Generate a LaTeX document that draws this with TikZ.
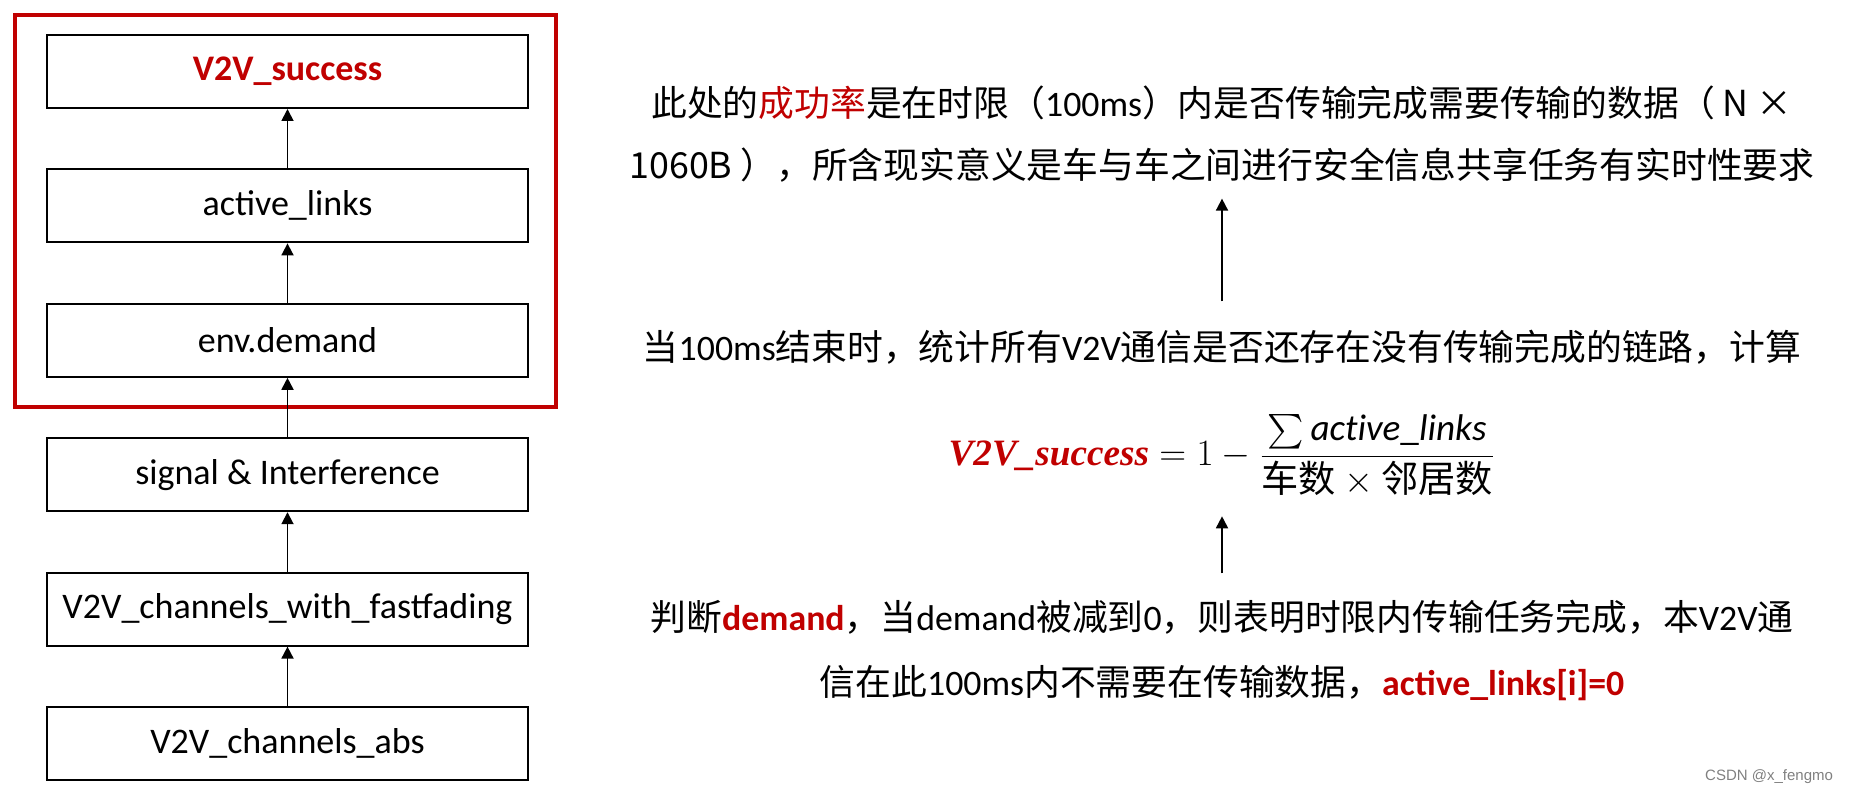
\RequirePackage{fix-cm}
\documentclass[tikz,border=0pt]{standalone}
\usepackage{amsmath}
\usepackage{fontspec}
\setmainfont{Carlito}
\newfontfamily\cjk{Noto Sans CJK SC}
\newfontfamily\wmfont{Liberation Sans}
\newfontfamily\mathword{Liberation Serif}
\usetikzlibrary{positioning,arrows.meta}
\definecolor{pptred}{RGB}{192,0,0}

\tikzset{%
  % Specifications for style of nodes:
         box/.style = {rectangle, draw = black, line width=1pt, minimum width=240.5pt, minimum height=36.5pt, font=\fontsize{18}{21}\selectfont},
        note/.style = {align=center, inner sep=0pt, font=\fontsize{17.9}{31}\selectfont\cjk},
         arr/.style = {-{Triangle[length=6pt,width=6pt]}, line width=0.9pt},
}

\begin{document}
\begin{tikzpicture}[x=0.5pt, y=-0.5pt, node distance=67.2pt]
    \useasboundingbox (0,0) rectangle (1851,792);

    % Draw nodes
    \node (succ)    [box, text=pptred] at (287.5,71.5)  {\bfseries V2V\_success};
    \node (links)   [box, below of = succ]     {active\_links};
    \node (demand)  [box, below of = links]    {env.demand};
    \node (sig)     [box, below of = demand]   {signal \& Interference};
    \node (fast)    [box, below of = sig]      {V2V\_channels\_with\_fastfading};
    \node (abs)     [box, below of = fast]     {V2V\_channels\_abs};

    % red frame round the top three
    \draw[pptred, line width=2pt] (15,15) rectangle (556,407);

    \node (why)     [note] at (1222,134) {此处的{\color{pptred}成功率}是在时限（{\rmfamily 100ms}）内是否传输完成需要传输的数据（ N ×\\1060B ），所含现实意义是车与车之间进行安全信息共享任务有实时性要求};
    \node (count)   [note] at (1222,347) {当{\rmfamily 100ms}结束时，统计所有{\rmfamily V2V}通信是否还存在没有传输完成的链路，计算};
    \node (formula) [inner sep=0pt, font=\fontsize{18.6}{22}\selectfont] at (1222,455)
        {$\text{\mathword\bfseries\itshape\color{pptred}V2V\_success} = 1-\dfrac{\sum \mathit{active\_links}}{\text{\cjk 车数}\times\text{\cjk 邻居数}}$};
    \node (judge)   [note, font=\fontsize{17.9}{32.5}\selectfont\cjk] at (1222,650) {判断{\rmfamily\bfseries\color{pptred}demand}，当{\rmfamily demand}被减到{\rmfamily 0}，则表明时限内传输任务完成，本{\rmfamily V2V}通\\信在此{\rmfamily 100ms}内不需要在传输数据，{\rmfamily\bfseries\color{pptred}active\_links[i]=0}};

    \node (mark)    [anchor=east, text=gray, font=\wmfont\fontsize{7.5}{9}\selectfont] at (1840,777) {CSDN @x\_fengmo};

    % Draw arrows
    \draw[arr] (abs) -- (fast);
    \draw[arr] (fast) -- (sig);
    \draw[arr] (sig) -- (demand);
    \draw[arr] (demand) -- (links);
    \draw[arr] (links) -- (succ);

    \draw[arr, shorten <=14pt, shorten >=8pt] (count.north) -- (why.south);
    \draw[arr, shorten <=13pt, shorten >=10pt] (judge.north) -- (judge.north |- formula.south);

\end{tikzpicture}
\end{document}
